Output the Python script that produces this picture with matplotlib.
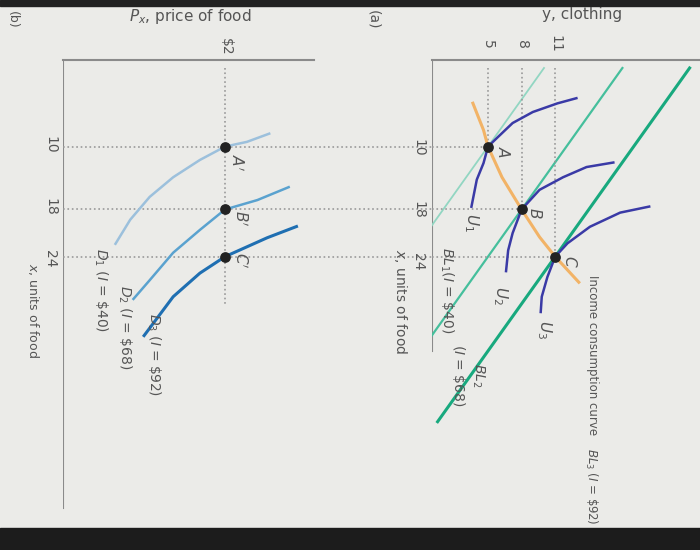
import numpy as np
import matplotlib.pyplot as plt
from matplotlib.patches import Rectangle

# panel (a): x = food, y = clothing
food_ticks = [10, 18, 24]
cloth_ticks = [5, 8, 11]
incomes = [40, 68, 92]
price_x, price_y = 2, 4
bl_ext = [(0, 21), (0, 36.5), (0, 45)]  # food range drawn for each budget line

u1_x = [3.8, 4.5, 5.6, 7.0, 8.9, 10, 12.1, 14.2, 17.8]
u1_y = [13.0, 11.2, 9.0, 7.2, 5.8, 5, 4.6, 4.0, 3.5]
u2_x = [12.0, 12.6, 13.9, 15.5, 18, 21.0, 23.2, 26.0]
u2_y = [16.3, 13.8, 11.7, 9.6, 8, 7.2, 6.8, 6.6]
u3_x = [17.6, 18.4, 20.2, 22.3, 24, 26.6, 29.1, 31.2]
u3_y = [19.5, 16.8, 14.1, 12.1, 11, 10.3, 9.8, 9.7]
icc_x = [4.3, 7.9, 10, 13.9, 18, 21.5, 24, 27.4]
icc_y = [3.6, 4.6, 5, 6.25, 8, 9.6, 11, 13.2]

# panel (b): demand curves
d1_x = [8.3, 9.4, 10, 11.7, 13.9, 16.4, 19.3, 22.5]
d1_p = [2.56, 2.27, 2, 1.69, 1.36, 1.07, 0.83, 0.64]
d2_x = [15.1, 16.8, 18, 20.6, 23.5, 27, 29.5]
d2_p = [2.8, 2.4, 2, 1.69, 1.36, 1.07, 0.86]
d3_x = [20.1, 21.6, 24, 26.1, 29.1, 34.2]
d3_p = [2.9, 2.52, 2, 1.69, 1.36, 0.99]

W, H = 700, 550
fig = plt.figure(figsize=(7, 5.5), dpi=100)
fig.patch.set_facecolor('#ebebe8')
fig.patches.append(Rectangle((0, 1 - 6 / H), 1, 6 / H, transform=fig.transFigure, color='#222222', zorder=0))
fig.patches.append(Rectangle((0, 0), 1, 22 / H, transform=fig.transFigure, color='#1c1c1c', zorder=0))

def px_axes(x0, x1, y0, y1):
    return fig.add_axes([x0 / W, 1 - y1 / H, (x1 - x0) / W, (y1 - y0) / H])

f_top = (60 - 68) / 7.86
f_bot = (526 - 68) / 7.86
ax_a = px_axes(432, 700, 60, 526)
ax_a.set_xlim(0, (700 - 432) / 11.2)
ax_a.set_ylim(f_bot, f_top)
ax_b = px_axes(63, 432, 60, 526)
ax_b.set_xlim(0, (432 - 63) / 81)
ax_b.set_ylim(f_bot, f_top)
for ax in (ax_a, ax_b):
    ax.axis('off')
    ax.patch.set_alpha(0)

axc = '#8a8a8a'
tc = '#555555'
kw = dict(solid_joinstyle='round', solid_capstyle='butt')
# axes lines
ax_a.plot([0, 23.9], [f_top, f_top], color=axc, lw=1.5, clip_on=False)
ax_a.plot([0, 0], [f_top, 36], color=axc, lw=1.5)
ax_b.plot([0, 3.1], [f_top, f_top], color=axc, lw=1.5, clip_on=False)
ax_b.plot([0, 0], [f_top, 56], color=axc, lw=1.5)

# budget lines
bl_cols = ['#92d6c2', '#45bf9c', '#18a97e']
bl_lw = [1.3, 1.6, 2.2]
for inc, (a, b), c, lw in zip(incomes, bl_ext, bl_cols, bl_lw):
    xs = np.array([a, b])
    ax_a.plot((inc - price_x * xs) / price_y, xs, color=c, lw=lw)

# dotted guides
for fx, cy in zip(food_ticks, cloth_ticks):
    ax_b.plot([0, 4.6], [fx, fx], ls=':', color='#999999', lw=1.2)
    ax_a.plot([0, cy], [fx, fx], ls=':', color='#999999', lw=1.2)
    ax_a.plot([cy, cy], [0, fx], ls=':', color='#999999', lw=1.2)
ax_b.plot([2, 2], [0, 30], ls=':', color='#999999', lw=1.2)

uc = '#3a3aa6'
for xs, ys in [(u1_x, u1_y), (u2_x, u2_y), (u3_x, u3_y)]:
    ax_a.plot(ys, xs, color=uc, lw=1.8, **kw)
ax_a.plot(icc_y, icc_x, color='#f2b366', lw=2.2, **kw)
ax_a.scatter(cloth_ticks, food_ticks, s=45, color='#222222', zorder=5)

ax_b.plot(d1_p, d1_x, color='#9cc0dc', lw=1.8, **kw)
ax_b.plot(d2_p, d2_x, color='#5aa2cf', lw=1.8, **kw)
ax_b.plot(d3_p, d3_x, color='#1f6fb2', lw=2.2, **kw)
ax_b.scatter([2, 2, 2], food_ticks, s=45, color='#222222', zorder=5)

def t(x, y, s, rot=-90, size=10, **kw):
    fig.text(x / W, 1 - y / H, s, rotation=rot, ha='center', va='center',
             color=tc, size=size, **kw)

t(582, 14, 'y, clothing', rot=0, size=11)
for lab, xp in zip(['11', '8', '5'], [555, 522, 488]):
    t(xp, 44, lab)
for lab, yp in zip(['10', '18', '24'], [148, 210, 262]):
    t(418, yp, lab)
    t(50, yp - 3, lab)
t(592, 355, 'Income consumption curve', size=8.5)
t(544, 330, r'$U_3$', size=11)
t(500, 295, r'$U_2$', size=11)
t(471, 222, r'$U_1$', size=11)
t(447, 290, r'$BL_1(I$ = \$40)', size=10)
t(468, 375, r'$BL_2$' + '\n' + r'($I$ = \$68)', size=10)
t(591, 486, r'$BL_3$ ($I$ = \$92)', size=8.5)
t(503, 152, r'$A$', size=11)
t(535, 213, r'$B$', size=11)
t(570, 261, r'$C$', size=11)
t(400, 302, r'$x$, units of food', size=10)
t(373, 20, '(a)', size=10)
t(190, 17, r'$P_x$, price of food', rot=0, size=11)
t(226, 47, '$2')
t(33, 310, r'$x$, units of food', size=9)
t(12, 20, '(b)', size=9)
t(236, 163, r"$A'$", size=11)
t(240, 218, r"$B'$", size=11)
t(240, 260, r"$C'$", size=11)
t(154, 355, r'$D_3$ ($I$ = \$92)', size=10)
t(125, 327, r'$D_2$ ($I$ = \$68)', size=10)
t(101, 290, r'$D_1$ ($I$ = \$40)', size=10)

fig.savefig('out.png', dpi=100, facecolor=fig.get_facecolor())
